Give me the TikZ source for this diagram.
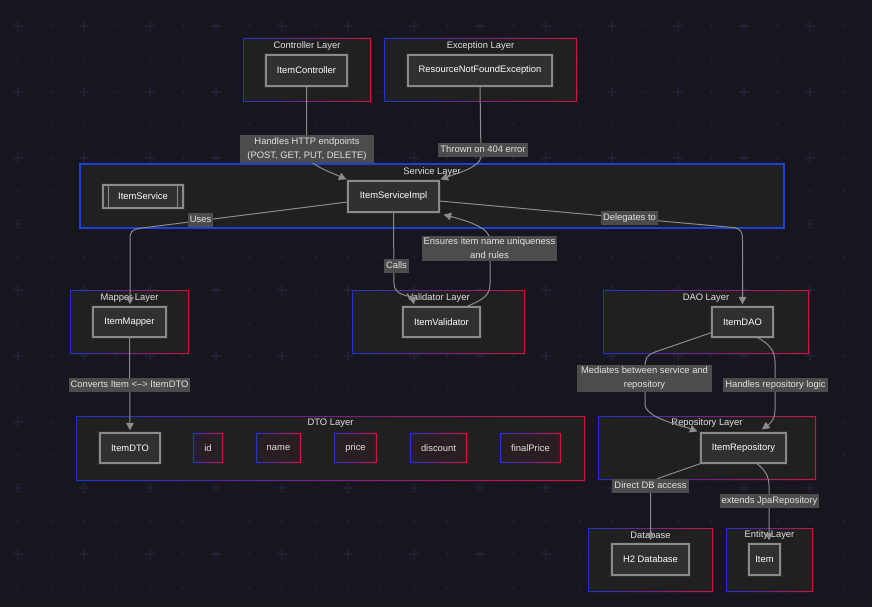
\documentclass[tikz,border=0pt]{standalone}
\usepackage{fontspec}
\setmainfont{Liberation Sans}
\usetikzlibrary{arrows.meta,calc}
\definecolor{bg}{HTML}{17161F}
\definecolor{patc}{HTML}{211F33}
\definecolor{lblue}{HTML}{1E34D0}
\definecolor{lred}{HTML}{D4123E}
\definecolor{layerfill}{HTML}{202020}
\definecolor{nodefill}{HTML}{303030}
\definecolor{nodeborder}{HTML}{8A8A8A}
\definecolor{fieldfill}{HTML}{281E24}
\definecolor{labelbg}{HTML}{4C4C4C}
\definecolor{labeltext}{HTML}{E2E2E2}
\definecolor{edgec}{HTML}{8C8C8C}
\definecolor{svcblue}{HTML}{1A40D8}
\newcommand{\layerframe}[4]{%
  \shade[left color=lblue,right color=lred,even odd rule]
    (#1,#2) rectangle (#3,#4) ({#1+1.3},{#2+1.3}) rectangle ({#3-1.3},{#4-1.3});
  \fill[layerfill] ({#1+1.3},{#2+1.3}) rectangle ({#3-1.3},{#4-1.3});}
\newcommand{\fieldframe}[1]{%
  \shade[left color=lblue,right color=lred,even odd rule]
    (#1.south west) rectangle (#1.north east)
    ($(#1.south west)+(1.3,-1.3)$) rectangle ($(#1.north east)+(-1.3,1.3)$);}
\begin{document}
\begin{tikzpicture}[x=1pt,y=-1pt,
  txt/.style={font=\fontsize{9.4}{11}\selectfont},
  inode/.style={txt, draw=nodeborder, fill=nodefill, line width=1.2pt, text=white,
    minimum height=31pt, inner sep=0pt,
    preaction={draw=white, draw opacity=0.06, line width=4pt}},
  fnode/.style={txt, fill=fieldfill, text=labeltext, minimum height=30pt, inner sep=0pt},
  ltitle/.style={txt, text=labeltext, inner sep=0pt},
  elabel/.style={font=\fontsize{9.4}{14}\selectfont, fill=labelbg, text=labeltext, align=center,
    inner xsep=2pt, inner ysep=2.5pt},
  elabel1/.style={elabel, text height=7pt, text depth=2pt},
  edge/.style={draw=edgec, line width=1pt, -{Triangle[length=7.5pt,width=7.5pt]}},
]
\useasboundingbox (0,0) rectangle (872,607);
\fill[bg] (0,0) rectangle (872,607);
% background pattern
\foreach \i in {0,...,26}{\foreach \j in {0,...,18}{\fill[patc] ({18+33*\i},{26+33*\j}) circle (1.5pt);}}
\foreach \i in {0,...,13}{\foreach \j in {0,...,9}{%
  \fill[patc] ({18+66*\i-5},{26+66*\j-1}) rectangle +(10,2);
  \fill[patc] ({18+66*\i-1},{26+66*\j-5}) rectangle +(2,10);}}

% layers
\layerframe{243}{38}{371}{102}
\node[ltitle] (tctrl) at (307,46) {Controller Layer};
\layerframe{384}{38}{577}{102}
\node[ltitle] (texc) at (480.5,46) {Exception Layer};
\fill[layerfill, draw=svcblue, line width=1.5pt] (80,164) rectangle (784,228);
\node[ltitle] (tsvc) at (432,172) {Service Layer};
\layerframe{70}{290}{189}{354}
\node[ltitle] (tmap) at (129.5,298) {Mapper Layer};
\layerframe{352}{290}{525}{354}
\node[ltitle] (tval) at (438.5,298) {Validator Layer};
\layerframe{603}{290}{809}{354}
\node[ltitle] (tdao) at (706,298) {DAO Layer};
\layerframe{76}{416}{585}{481}
\node[ltitle] (tdto) at (330.5,423) {DTO Layer};
\layerframe{598}{416}{816}{480}
\node[ltitle] (trep) at (707,423) {Repository Layer};
\layerframe{588}{528}{713}{592}
\node[ltitle] (tdb) at (650.5,535) {Database};
\layerframe{726}{528}{813}{592}
\node[ltitle] (tent) at (769.5,535) {Entity Layer};

% nodes
\node[inode, minimum width=81pt] (ic) at (306.5,70.5) {ItemController};
\node[inode, minimum width=144pt] (rnf) at (480,70.5) {ResourceNotFoundException};
\node[inode, minimum width=80pt, minimum height=23pt] (is) at (143,196.5) {ItemService};
\draw[nodeborder, line width=1pt] ($(is.north west)+(6,0)$) -- ($(is.south west)+(6,0)$);
\draw[nodeborder, line width=1pt] ($(is.north east)+(-6,0)$) -- ($(is.south east)+(-6,0)$);
\node[inode, minimum width=91pt] (isi) at (393.5,196.5) {ItemServiceImpl};
\node[inode, minimum width=73pt, minimum height=30pt] (im) at (129.5,322) {ItemMapper};
\node[inode, minimum width=77pt, minimum height=30pt] (iv) at (441.5,322) {ItemValidator};
\node[inode, minimum width=61pt, minimum height=30pt] (idao) at (742.5,322) {ItemDAO};
\node[inode, minimum width=60pt, minimum height=30pt] (dto) at (130,448) {ItemDTO};
\node[fnode, minimum width=30pt] (fid) at (208,448) {id};
\node[fnode, minimum width=45pt] (fname) at (278.5,448) {name};
\node[fnode, minimum width=43pt] (fprice) at (355.5,448) {price};
\node[fnode, minimum width=57pt] (fdisc) at (438.5,448) {discount};
\node[fnode, minimum width=61pt] (ffinal) at (530.5,448) {finalPrice};
\fieldframe{fid}\fieldframe{fname}\fieldframe{fprice}\fieldframe{fdisc}\fieldframe{ffinal}
\node[inode, minimum width=85pt, minimum height=30pt] (repo) at (743.5,448) {ItemRepository};
\node[inode, minimum width=77pt] (h2) at (650.5,559.5) {H2 Database};
\node[inode, minimum width=31pt] (item) at (764.5,559.5) {Item};

% edges
\draw[edge] (ic.south) -- (306.5,153) .. controls (306.5,164) and (330,172) .. ($(isi.north west)+(-1,-1)$);
\draw[edge] (rnf.south) -- (481,156) .. controls (481,167) and (458,173) .. ($(isi.north east)+(1,-1)$);
\draw[edge] ($(isi.west)+(0,5.5)$) -- (142,228) .. controls (131,229.5) and (130,232) .. (130,240) -- ($(im.north)+(0.5,-2)$);
\draw[edge] (isi.south) -- (394,284) .. controls (394,296) and (412,296) .. ($(iv.north)+(-27.5,-2)$);
\draw[edge] ($(iv.north)+(25.5,0)$) .. controls (482,300) and (490,296) .. (490,284) -- (490,240) .. controls (490,228) and (468,221) .. ($(isi.south east)+(4,2)$);
\draw[edge] ($(isi.east)+(0,4.5)$) -- (733,227.5) .. controls (741,228.5) and (742.5,232) .. (742.5,240) -- ($(idao.north)+(0,-2)$);
\draw[edge] (im.south) -- ($(dto.north)+(0,-2)$);
\draw[edge] ($(idao.south west)+(0,-5)$) -- (655,352) .. controls (646,355.5) and (645,359) .. (645,368) -- (645,404) .. controls (645,418) and (680,425) .. ($(repo.north west)+(-3,-1)$);
\draw[edge] ($(idao.south)+(15,0)$) .. controls (768,343) and (775,350) .. (775,362) -- (775,410) .. controls (775,421) and (768,425) .. ($(repo.north)+(18.5,-3)$);
\draw[edge] (repo.south west) -- (662,477) .. controls (652,480.5) and (650.5,484) .. (650.5,492) -- ($(h2.north)+(0,-3)$);
\draw[edge] ($(repo.south)+(13.5,0)$) .. controls (765,470) and (769,476) .. (769,486) -- ($(item.north)+(4.5,-3)$);

% edge labels
\node[elabel, minimum width=134pt] (lhttp) at (307,149) {Handles HTTP endpoints\\(POST, GET, PUT, DELETE)};
\node[elabel1] (lthrown) at (483,150) {Thrown on 404 error};
\node[elabel1] (luses) at (200.5,220) {Uses};
\node[elabel1] (lcalls) at (396.5,265.5) {Calls};
\node[elabel, minimum width=135pt] (lens) at (489.5,248.5) {Ensures item name uniqueness\\and rules};
\node[elabel1] (ldel) at (629.5,218) {Delegates to};
\node[elabel1] (lconv) at (129.5,385) {Converts Item <--> ItemDTO};
\node[elabel, minimum width=135pt] (lmed) at (644.5,378.5) {Mediates between service and\\repository};
\node[elabel1] (lhrl) at (775.5,384.5) {Handles repository logic};
\node[elabel1] (ldb) at (650.5,486) {Direct DB access};
\node[elabel1] (lext) at (769.5,501) {extends JpaRepository};
\end{tikzpicture}
\end{document}
